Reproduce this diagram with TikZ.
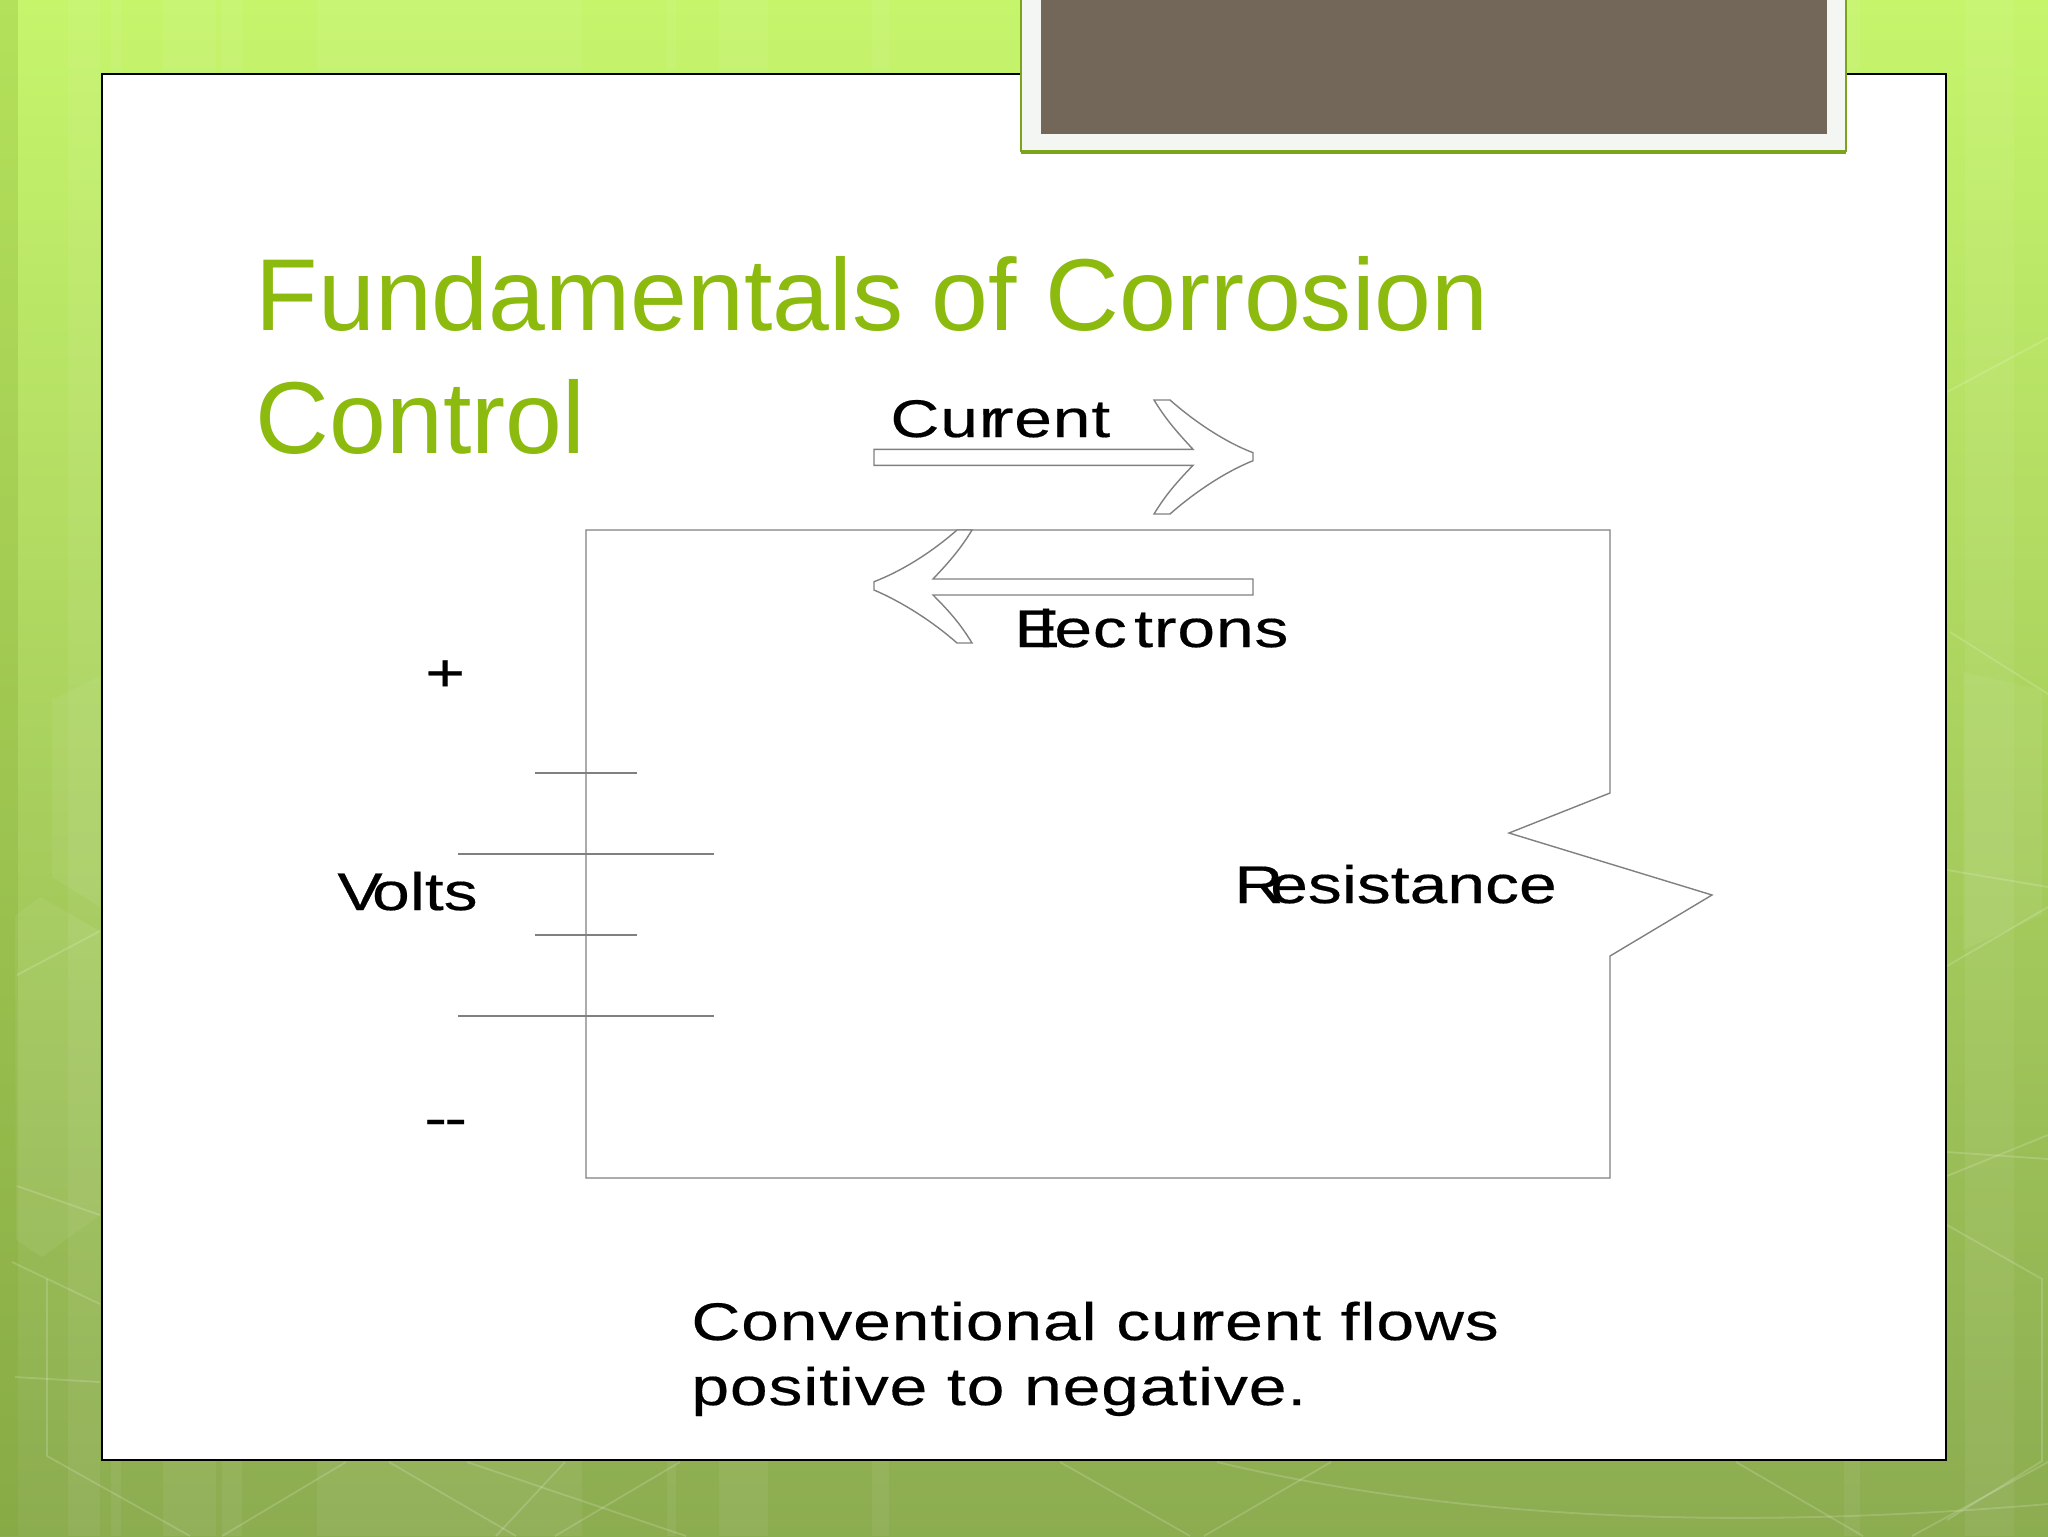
\documentclass[tikz,border=0pt]{standalone}
\usepackage{fontspec}
\setmainfont{Liberation Sans}
\newfontfamily\widefont[FakeStretch=1.28,FakeBold=0.35]{Liberation Sans}
\newfontfamily\notefont[FakeStretch=1.28,FakeBold=0.35,LetterSpace=1.6]{Liberation Sans}
\usetikzlibrary{calc}
\definecolor{titlegreen}{HTML}{8CBA0E}
\definecolor{framegreen}{HTML}{7BA31C}
\definecolor{panelbrown}{HTML}{73675A}
\definecolor{panelwhite}{HTML}{F4F6F4}
\definecolor{wiregray}{HTML}{808080}
\definecolor{bgtop}{HTML}{C6F56C}
\definecolor{bgmid}{HTML}{AAD65C}
\definecolor{bgbottom}{HTML}{8CAC50}
\definecolor{bgedge}{HTML}{7FA82A}
\tikzset{
	titletext/.style={anchor=base west, inner sep=0pt, text=titlegreen, font=\fontsize{51.1}{51}\selectfont},
	bodytext/.style={anchor=base west, inner sep=0pt, text=black, font=\widefont\fontsize{26.5}{26.5}\selectfont},
	notetext/.style={bodytext, font=\notefont\fontsize{26.5}{26.5}\selectfont},
	wire/.style={draw=wiregray, line width=0.7pt, line join=miter},
	bgband/.style={fill=white, fill opacity=0.06, draw=none},
	bgline/.style={draw=white, draw opacity=0.17, line width=0.9pt}
}
\begin{document}
\begin{tikzpicture}[x=0.5pt, y=-0.5pt]
	\useasboundingbox (0,0) rectangle (2048,1536);
	% background
	\shade[top color=bgtop, middle color=bgmid, bottom color=bgbottom] (0,0) rectangle (2048,1536);
	\fill[bgedge, fill opacity=0.25] (0,0) rectangle (18,1536);
	\foreach \xa/\xb in {68/100, 111/121, 163/216, 222/242, 317/333, 333/582, 667/676, 719/768, 872/889, 1844/1860, 1965/2014}
		\fill[bgband] (\xa,0) rectangle (\xb,1536);
	\fill[bgband] (15,916) -- (40,897) -- (100,931) -- (100,1215) -- (42,1257) -- (16,1240) -- cycle;
	\fill[bgband] (52,700) -- (100,676) -- (100,907) -- (52,877) -- cycle;
	\fill[bgband] (1963,672) -- (2042,690) -- (2042,915) -- (1963,950) -- cycle;
	\draw[bgline] (17,975) -- (100,931);
	\draw[bgline] (17,1186) -- (100,1215);
	\draw[bgline] (12,1262) -- (100,1304);
	\draw[bgline] (15,1377) -- (100,1382);
	\draw[bgline] (47,1279) -- (47,1456) -- (190,1536);
	\draw[bgline] (222,1536) -- (346,1462);
	\draw[bgline] (389,1462) -- (516,1536);
	\draw[bgline] (467,1462) -- (686,1536);
	\draw[bgline] (565,1462) -- (496,1536);
	\draw[bgline] (680,1462) -- (555,1536);
	\draw[bgline] (1060,1462) -- (1190,1536);
	\draw[bgline] (1331,1462) -- (1204,1536);
	\draw[bgline] (1217,1462) .. controls (1500,1530) and (1800,1525) .. (2048,1504);
	\draw[bgline] (1736,1462) -- (1863,1536);
	\draw[bgline] (2048,1462) -- (1912,1536);
	\draw[bgline] (1947,392) -- (2048,338);
	\draw[bgline] (1950,632) -- (2048,694);
	\draw[bgline] (1947,966) -- (2048,907);
	\draw[bgline] (1947,870) -- (2048,887);
	\draw[bgline] (1947,1176) -- (2048,1135);
	\draw[bgline] (1947,1152) -- (2048,1159);
	\draw[bgline] (1947,1225) -- (2042,1279) -- (2042,1461) -- (1947,1520);
	% slide and top panel
	\draw[black, line width=1pt, fill=white] (102,74) rectangle (1946,1460);
	\draw[framegreen, line width=1.4pt, fill=panelwhite] (1021,-5) rectangle (1846,151);
	\draw[framegreen, line width=1.8pt] (1021,152) -- (1846,152);
	\fill[panelbrown] (1041,-5) rectangle (1827,134);
	% title
	\node[titletext] (title1) at (255.5,330) {Fundamentals of Corrosion};
	\node[titletext] (title2) at (255.5,453) {Control};
	% circuit
	\coordinate (wireTL) at (586,530);
	\coordinate (wireTR) at (1610,530);
	\coordinate (resA) at (1610,793);
	\coordinate (resB) at (1509,833);
	\coordinate (resC) at (1712,895);
	\coordinate (resD) at (1610,956);
	\coordinate (wireBR) at (1610,1178);
	\coordinate (wireBL) at (586,1178);
	\draw[wire] (wireTL) -- (wireTR) -- (resA) -- (resB) -- (resC) -- (resD) -- (wireBR) -- (wireBL) -- cycle;
	\coordinate (cell1) at (586,773);
	\coordinate (cell2) at (586,854);
	\coordinate (cell3) at (586,935);
	\coordinate (cell4) at (586,1016);
	\foreach \cell/\half in {cell1/51, cell2/128, cell3/51, cell4/128}
		\draw[wire] ($(\cell)+(-\half,0)$) -- ($(\cell)+(\half,0)$);
	% arrows
	\draw[wire, fill=white] (874,449.3) -- (1193,449.3) .. controls (1175,430) and (1165,418) .. (1154,400) -- (1170,400)
		.. controls (1195,422) and (1225,442) .. (1253,452.7) -- (1253,460.7)
		.. controls (1225,472) and (1195,492) .. (1170,514) -- (1154,514)
		.. controls (1165,496) and (1175,484) .. (1193,465.3) -- (874,465.3) -- cycle;
	\draw[wire, fill=white] (1253,579) -- (933,579) .. controls (951,560) and (961,548) .. (972,530) -- (957,530)
		.. controls (932,552) and (902,571) .. (874,581.7) -- (874,590)
		.. controls (902,602) and (932,621) .. (957,643) -- (972,643)
		.. controls (961,625) and (951,613) .. (933,595) -- (1253,595) -- cycle;
	% labels
	\node[notetext] (current) at (890,437) {Cur\kern-.2em rent};
	\node[notetext] (electrons) at (1014,647) {E\kern-.4em lec\kern.14em trons};
	\node[bodytext] (plus) at (425,691) {+};
	\node[bodytext] (volts) at (337,910) {V\kern-.2em olts};
	\node[bodytext] (minus) at (424,1136) {-\kern-.05em -};
	\node[bodytext] (resistance) at (1234,903) {R\kern-.25em esistance};
	\node[notetext] (note1) at (691,1340) {Conventional cur\kern-.2em rent flows};
	\node[notetext] (note2) at (691,1405) {positive to negative.};
\end{tikzpicture}
\end{document}
